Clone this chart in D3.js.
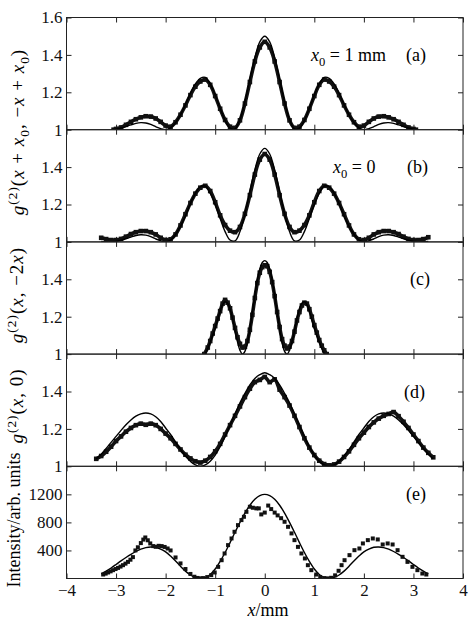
<!DOCTYPE html>
<html>
<head>
<meta charset="utf-8">
<script src="https://cdn.jsdelivr.net/npm/d3@7"></script>
<style>
body { margin: 0; background: #fff; }
svg text { font-family: "Liberation Serif", "Times New Roman", serif; white-space: pre; }
</style>
</head>
<body>
<div id="chart"></div>
<script>
// ---- data: [x in mm, value] ----
var theoryA = [[-3.1,1.0],[-3.0,1.003],[-2.9,1.009],[-2.8,1.017],[-2.7,1.026],[-2.6,1.034],[-2.5,1.038],[-2.4,1.036],[-2.3,1.028],[-2.2,1.016],[-2.1,1.006],[-2.0,1.0],[-1.9,1.01],[-1.8,1.038],[-1.7,1.08],[-1.6,1.135],[-1.5,1.195],[-1.4,1.245],[-1.3,1.275],[-1.2,1.28],[-1.1,1.245],[-1.0,1.185],[-0.9,1.115],[-0.8,1.05],[-0.7,1.008],[-0.6,1.004],[-0.5,1.055],[-0.4,1.15],[-0.3,1.27],[-0.2,1.385],[-0.1,1.47],[0,1.5],[0.1,1.47],[0.2,1.385],[0.3,1.27],[0.4,1.15],[0.5,1.055],[0.6,1.004],[0.7,1.008],[0.8,1.05],[0.9,1.115],[1.0,1.185],[1.1,1.245],[1.2,1.28],[1.3,1.275],[1.4,1.245],[1.5,1.195],[1.6,1.135],[1.7,1.08],[1.8,1.038],[1.9,1.01],[2.0,1.0],[2.1,1.006],[2.2,1.016],[2.3,1.028],[2.4,1.036],[2.5,1.038],[2.6,1.034],[2.7,1.026],[2.8,1.017],[2.9,1.009],[3.0,1.003],[3.1,1.0]];
var expA = [[-3.05,1.0],[-3.0,1.004],[-2.9,1.012],[-2.8,1.026],[-2.7,1.042],[-2.6,1.056],[-2.5,1.066],[-2.4,1.072],[-2.3,1.07],[-2.2,1.06],[-2.1,1.042],[-2.0,1.022],[-1.9,1.016],[-1.8,1.04],[-1.7,1.08],[-1.6,1.13],[-1.5,1.185],[-1.4,1.23],[-1.3,1.258],[-1.2,1.268],[-1.1,1.24],[-1.0,1.18],[-0.9,1.112],[-0.8,1.052],[-0.7,1.016],[-0.6,1.01],[-0.5,1.05],[-0.4,1.14],[-0.3,1.255],[-0.2,1.365],[-0.1,1.44],[0,1.47],[0.1,1.44],[0.2,1.365],[0.3,1.255],[0.4,1.14],[0.5,1.05],[0.6,1.01],[0.7,1.016],[0.8,1.052],[0.9,1.112],[1.0,1.18],[1.1,1.24],[1.2,1.268],[1.3,1.258],[1.4,1.23],[1.5,1.185],[1.6,1.13],[1.7,1.08],[1.8,1.04],[1.9,1.016],[2.0,1.022],[2.1,1.042],[2.2,1.06],[2.3,1.07],[2.4,1.072],[2.5,1.066],[2.6,1.056],[2.7,1.042],[2.8,1.026],[2.9,1.012],[3.0,1.004],[3.05,1.0]];

var theoryB = [[-3.3,1.003],[-3.2,1.001],[-3.1,1.0],[-3.0,1.003],[-2.9,1.009],[-2.8,1.017],[-2.7,1.026],[-2.6,1.034],[-2.5,1.038],[-2.4,1.036],[-2.3,1.028],[-2.2,1.016],[-2.1,1.006],[-2.0,1.0],[-1.9,1.01],[-1.8,1.04],[-1.7,1.083],[-1.6,1.14],[-1.5,1.205],[-1.4,1.26],[-1.3,1.295],[-1.2,1.298],[-1.1,1.26],[-1.0,1.2],[-0.9,1.125],[-0.8,1.055],[-0.7,1.01],[-0.6,1.005],[-0.5,1.055],[-0.4,1.15],[-0.3,1.27],[-0.2,1.385],[-0.1,1.47],[0,1.5],[0.1,1.47],[0.2,1.385],[0.3,1.27],[0.4,1.15],[0.5,1.055],[0.6,1.005],[0.7,1.01],[0.8,1.055],[0.9,1.125],[1.0,1.2],[1.1,1.26],[1.2,1.298],[1.3,1.295],[1.4,1.26],[1.5,1.205],[1.6,1.14],[1.7,1.083],[1.8,1.04],[1.9,1.01],[2.0,1.0],[2.1,1.006],[2.2,1.016],[2.3,1.028],[2.4,1.036],[2.5,1.038],[2.6,1.034],[2.7,1.026],[2.8,1.017],[2.9,1.009],[3.0,1.003],[3.1,1.0],[3.2,1.001],[3.3,1.003]];
var expB = [[-3.3,1.022],[-3.2,1.015],[-3.1,1.01],[-3.0,1.01],[-2.9,1.016],[-2.8,1.028],[-2.7,1.042],[-2.6,1.052],[-2.5,1.058],[-2.4,1.058],[-2.3,1.052],[-2.2,1.04],[-2.1,1.022],[-2.0,1.01],[-1.9,1.014],[-1.8,1.04],[-1.7,1.088],[-1.6,1.148],[-1.5,1.208],[-1.4,1.258],[-1.3,1.29],[-1.2,1.3],[-1.1,1.272],[-1.0,1.212],[-0.9,1.142],[-0.8,1.09],[-0.7,1.06],[-0.6,1.052],[-0.5,1.08],[-0.4,1.15],[-0.3,1.25],[-0.2,1.36],[-0.1,1.44],[0,1.47],[0.1,1.44],[0.2,1.36],[0.3,1.25],[0.4,1.15],[0.5,1.08],[0.6,1.052],[0.7,1.06],[0.8,1.09],[0.9,1.142],[1.0,1.212],[1.1,1.272],[1.2,1.3],[1.3,1.29],[1.4,1.258],[1.5,1.208],[1.6,1.148],[1.7,1.088],[1.8,1.04],[1.9,1.014],[2.0,1.01],[2.1,1.022],[2.2,1.04],[2.3,1.052],[2.4,1.058],[2.5,1.058],[2.6,1.052],[2.7,1.042],[2.8,1.028],[2.9,1.016],[3.0,1.01],[3.1,1.01],[3.2,1.015],[3.3,1.025]];

var theoryC = [[-1.2,1.0],[-1.15,1.03],[-1.1,1.065],[-1.05,1.1],[-1.0,1.14],[-0.95,1.185],[-0.9,1.23],[-0.85,1.265],[-0.8,1.28],[-0.75,1.272],[-0.7,1.24],[-0.65,1.19],[-0.6,1.125],[-0.55,1.065],[-0.5,1.02],[-0.45,1.0],[-0.4,1.015],[-0.35,1.06],[-0.3,1.135],[-0.25,1.225],[-0.2,1.315],[-0.15,1.395],[-0.1,1.455],[-0.05,1.49],[0,1.5],[0.05,1.49],[0.1,1.455],[0.15,1.395],[0.2,1.315],[0.25,1.225],[0.3,1.135],[0.35,1.06],[0.4,1.015],[0.45,1.0],[0.5,1.02],[0.55,1.065],[0.6,1.125],[0.65,1.19],[0.7,1.24],[0.75,1.272],[0.8,1.28],[0.85,1.265],[0.9,1.23],[0.95,1.185],[1.0,1.14],[1.05,1.1],[1.1,1.065],[1.15,1.03],[1.2,1.0]];
var expC = [[-1.22,1.0],[-1.15,1.035],[-1.1,1.07],[-1.05,1.11],[-1.0,1.15],[-0.95,1.19],[-0.9,1.23],[-0.85,1.27],[-0.8,1.29],[-0.75,1.275],[-0.7,1.245],[-0.65,1.195],[-0.6,1.14],[-0.55,1.09],[-0.5,1.055],[-0.45,1.035],[-0.4,1.04],[-0.35,1.07],[-0.3,1.13],[-0.25,1.21],[-0.2,1.3],[-0.15,1.38],[-0.1,1.435],[-0.05,1.465],[0,1.475],[0.05,1.47],[0.1,1.44],[0.15,1.385],[0.2,1.31],[0.25,1.225],[0.3,1.145],[0.35,1.08],[0.4,1.045],[0.45,1.03],[0.5,1.04],[0.55,1.07],[0.6,1.12],[0.65,1.18],[0.7,1.225],[0.75,1.26],[0.8,1.275],[0.85,1.27],[0.9,1.24],[0.95,1.2],[1.0,1.155],[1.05,1.115],[1.1,1.075],[1.15,1.045],[1.2,1.02],[1.25,1.0]];

var theoryD = [[-3.4,1.04],[-3.3,1.065],[-3.2,1.095],[-3.1,1.128],[-3.0,1.16],[-2.9,1.192],[-2.8,1.222],[-2.7,1.248],[-2.6,1.268],[-2.5,1.28],[-2.4,1.285],[-2.3,1.28],[-2.2,1.265],[-2.1,1.24],[-2.0,1.205],[-1.9,1.17],[-1.8,1.13],[-1.7,1.09],[-1.6,1.055],[-1.5,1.027],[-1.4,1.007],[-1.3,1.0],[-1.2,1.007],[-1.1,1.027],[-1.0,1.06],[-0.9,1.105],[-0.8,1.16],[-0.7,1.22],[-0.6,1.28],[-0.5,1.34],[-0.4,1.39],[-0.3,1.435],[-0.2,1.47],[-0.1,1.49],[0,1.5],[0.1,1.49],[0.2,1.47],[0.3,1.435],[0.4,1.39],[0.5,1.34],[0.6,1.28],[0.7,1.22],[0.8,1.16],[0.9,1.105],[1.0,1.06],[1.1,1.027],[1.2,1.007],[1.3,1.0],[1.4,1.007],[1.5,1.027],[1.6,1.055],[1.7,1.09],[1.8,1.13],[1.9,1.17],[2.0,1.205],[2.1,1.24],[2.2,1.265],[2.3,1.28],[2.4,1.285],[2.5,1.28],[2.6,1.268],[2.7,1.248],[2.8,1.222],[2.9,1.192],[3.0,1.16],[3.1,1.128],[3.2,1.095],[3.3,1.065],[3.4,1.04]];
var expD = [[-3.4,1.04],[-3.3,1.055],[-3.2,1.078],[-3.1,1.105],[-3.0,1.135],[-2.9,1.16],[-2.8,1.185],[-2.7,1.205],[-2.6,1.22],[-2.5,1.228],[-2.4,1.222],[-2.3,1.228],[-2.2,1.22],[-2.1,1.2],[-2.0,1.175],[-1.9,1.15],[-1.8,1.12],[-1.7,1.09],[-1.6,1.062],[-1.5,1.042],[-1.4,1.027],[-1.3,1.02],[-1.2,1.03],[-1.1,1.05],[-1.0,1.08],[-0.9,1.12],[-0.8,1.17],[-0.7,1.22],[-0.6,1.27],[-0.5,1.32],[-0.4,1.37],[-0.3,1.415],[-0.2,1.45],[-0.1,1.462],[0,1.478],[0.1,1.45],[0.2,1.465],[0.3,1.41],[0.4,1.37],[0.5,1.325],[0.6,1.27],[0.7,1.21],[0.8,1.15],[0.9,1.1],[1.0,1.06],[1.1,1.03],[1.2,1.012],[1.3,1.005],[1.4,1.01],[1.5,1.025],[1.6,1.05],[1.7,1.08],[1.8,1.115],[1.9,1.15],[2.0,1.18],[2.1,1.21],[2.2,1.235],[2.3,1.255],[2.4,1.27],[2.5,1.28],[2.6,1.29],[2.7,1.268],[2.8,1.238],[2.9,1.205],[3.0,1.17],[3.1,1.135],[3.2,1.1],[3.3,1.072],[3.4,1.048]];

var theoryE = [[-3.3,65],[-3.2,105],[-3.1,150],[-3.0,200],[-2.9,252],[-2.8,300],[-2.7,345],[-2.6,385],[-2.5,418],[-2.4,440],[-2.3,450],[-2.2,445],[-2.1,420],[-2.0,380],[-1.9,320],[-1.8,250],[-1.7,175],[-1.6,105],[-1.5,50],[-1.4,15],[-1.3,0],[-1.2,12],[-1.1,58],[-1.0,135],[-0.9,243],[-0.8,371],[-0.7,512],[-0.6,659],[-0.5,801],[-0.4,933],[-0.3,1045],[-0.2,1129],[-0.1,1182],[0,1200],[0.1,1182],[0.2,1129],[0.3,1045],[0.4,933],[0.5,801],[0.6,659],[0.7,512],[0.8,371],[0.9,243],[1.0,135],[1.1,58],[1.2,12],[1.3,0],[1.4,15],[1.5,50],[1.6,105],[1.7,175],[1.8,250],[1.9,320],[2.0,380],[2.1,420],[2.2,445],[2.3,450],[2.4,440],[2.5,418],[2.6,385],[2.7,345],[2.8,300],[2.9,252],[3.0,200],[3.1,150],[3.2,105],[3.3,65]];
var expE = [[-3.26,57],[-3.21,70],[-3.16,86],[-3.11,102],[-3.06,119],[-3.01,135],[-2.96,151],[-2.91,170],[-2.86,190],[-2.81,212],[-2.76,237],[-2.71,268],[-2.66,305],[-2.61,400],[-2.56,445],[-2.5,505],[-2.45,555],[-2.41,585],[-2.36,545],[-2.31,500],[-2.25,462],[-2.2,452],[-2.14,466],[-2.08,462],[-2.02,450],[-1.96,428],[-1.9,400],[-1.8,300],[-1.7,215],[-1.6,135],[-1.5,65],[-1.42,25],[-1.36,8],[-1.3,3],[-1.24,6],[-1.16,20],[-1.08,48],[-1.01,86],[-0.94,166],[-0.87,261],[-0.81,357],[-0.74,476],[-0.67,571],[-0.61,666],[-0.54,761],[-0.47,833],[-0.42,880],[-0.37,951],[-0.3,1023],[-0.24,1009],[-0.17,1000],[-0.12,1000],[-0.07,914],[0.0,940],[0.07,1040],[0.13,990],[0.2,940],[0.26,900],[0.33,860],[0.4,809],[0.47,737],[0.54,643],[0.6,547],[0.67,451],[0.74,357],[0.81,286],[0.87,190],[0.94,119],[1.04,57],[1.12,22],[1.2,6],[1.27,2],[1.34,10],[1.42,45],[1.49,110],[1.55,190],[1.61,261],[1.71,333],[1.81,404],[1.91,428],[1.98,500],[2.08,547],[2.18,571],[2.28,557],[2.38,485],[2.48,500],[2.58,485],[2.68,404],[2.78,309],[2.88,237],[2.98,166],[3.08,119],[3.18,71],[3.26,57]];

var xTicks = [-4, -3, -2, -1, 0, 1, 2, 3, 4];
var gTicks = [1, 1.2, 1.4];
var gTicksTop = [1, 1.2, 1.4, 1.6];
var eTicks = [400, 800, 1200];

// ---- layout ----
var width = 474, height = 625;
var left = 66.5, right = 463;
var panelTop = [17.5, 129.7, 241.9, 354.1, 466.3], panelH = 112.2;
var fs = 17, ls = 18, labs = 19;

var svg = d3.select("#chart").append("svg")
    .attr("width", width)
    .attr("height", height);

var x = d3.scaleLinear().domain([-4, 4]).range([left, right]);

var panels = [
  {theory: theoryA, exp: expA, dom: [1, 1.6], ticks: gTicksTop},
  {theory: theoryB, exp: expB, dom: [1, 1.6], ticks: gTicks},
  {theory: theoryC, exp: expC, dom: [1, 1.6], ticks: gTicks},
  {theory: theoryD, exp: expD, dom: [1, 1.6], ticks: gTicks},
  {theory: theoryE, exp: expE, dom: [0, 1600], ticks: eTicks, dots: true}
];

// writes math-ish text with italic / sup / sub pieces
function mathText(sel, parts, size) {
  var prev = 0;
  parts.forEach(function(p) {
    var shift = p[1] == "sup" ? -0.38 * size : p[1] == "sub" ? 0.28 * size : 0;
    var t = sel.append("tspan").text(p[0]).attr("dy", shift - prev);
    prev = shift;
    if (p[1] == "i") t.attr("font-style", "italic");
    if (p[1] == "sup" || p[1] == "sub") t.attr("font-size", size * 0.7);
  });
}

function styleAxis(g) {
  g.select(".domain").remove();
  g.attr("font-size", fs);
  g.selectAll(".tick line").attr("stroke", "#222");
  g.selectAll(".tick text").attr("fill", "#111");
}

panels.forEach(function(p, i) {
  var top = panelTop[i], bot = top + panelH;
  var y = d3.scaleLinear().domain(p.dom).range([bot, top]);
  var g = svg.append("g");

  g.append("clipPath").attr("id", "clip" + i)
    .append("rect").attr("x", left).attr("y", top).attr("width", right - left).attr("height", panelH);

  g.append("g").attr("transform", "translate(" + left + ",0)")
    .call(d3.axisLeft(y).tickValues(p.ticks).tickSize(-5).tickPadding(4).tickFormat(d3.format("")))
    .call(styleAxis);
  g.append("g").attr("transform", "translate(" + right + ",0)")
    .call(d3.axisRight(y).tickValues(p.ticks).tickSize(-5).tickFormat(""))
    .call(styleAxis);
  g.append("g").attr("transform", "translate(0," + top + ")")
    .call(d3.axisTop(x).tickValues(xTicks).tickSize(-5).tickFormat(""))
    .call(styleAxis);
  var bAxis = d3.axisBottom(x).tickValues(xTicks).tickSize(-5).tickPadding(5);
  if (i < 4) bAxis.tickFormat("");
  g.append("g").attr("transform", "translate(0," + bot + ")")
    .call(bAxis)
    .call(styleAxis);

  var line = d3.line()
    .x(function(d) { return x(d[0]); })
    .y(function(d) { return y(d[1]); })
    .curve(d3.curveCatmullRom);

  var plot = g.append("g").attr("clip-path", "url(#clip" + i + ")");

  if (!p.dots) {
    plot.append("path").datum(p.exp)
      .attr("d", line)
      .attr("fill", "none")
      .attr("stroke", "#111")
      .attr("stroke-width", 3.6);
    plot.selectAll("rect.pt").data(p.exp).enter().append("rect")
      .attr("class", "pt")
      .attr("x", function(d) { return x(d[0]) - 2.3; })
      .attr("y", function(d) { return y(d[1]) - 2.3; })
      .attr("width", 4.6).attr("height", 4.6)
      .attr("fill", "#111");
  }

  plot.append("path").datum(p.theory)
    .attr("d", line)
    .attr("fill", "none")
    .attr("stroke", "#000")
    .attr("stroke-width", 1.4);

  if (p.dots) {
    plot.selectAll("rect.pt").data(p.exp).enter().append("rect")
      .attr("class", "pt")
      .attr("x", function(d) { return x(d[0]) - 2; })
      .attr("y", function(d) { return y(d[1]) - 2; })
      .attr("width", 4).attr("height", 4)
      .attr("fill", "#111");
  }

  g.append("rect")
    .attr("x", left).attr("y", top)
    .attr("width", right - left).attr("height", panelH)
    .attr("fill", "none")
    .attr("stroke", "#222")
    .attr("stroke-width", 1);
});

// panel notes
var noteA = svg.append("text").attr("x", 311).attr("y", 61).attr("font-size", ls);
mathText(noteA, [["x", "i"], ["0", "sub"], [" = 1 mm", ""]], ls);
svg.append("text").attr("x", 426).attr("y", 61).attr("text-anchor", "end").attr("font-size", ls).text("(a)");

var noteB = svg.append("text").attr("x", 333).attr("y", 173).attr("font-size", ls);
mathText(noteB, [["x", "i"], ["0", "sub"], [" = 0", ""]], ls);
svg.append("text").attr("x", 428).attr("y", 173).attr("text-anchor", "end").attr("font-size", ls).text("(b)");

svg.append("text").attr("x", 430).attr("y", 285).attr("text-anchor", "end").attr("font-size", ls).text("(c)");
svg.append("text").attr("x", 425).attr("y", 398).attr("text-anchor", "end").attr("font-size", ls).text("(d)");
svg.append("text").attr("x", 426).attr("y", 500).attr("text-anchor", "end").attr("font-size", ls).text("(e)");

// y labels
function yLabel(cx, cy, parts, size, spacing) {
  var t = svg.append("text")
    .attr("transform", "translate(" + cx + "," + cy + ") rotate(-90)")
    .attr("text-anchor", "middle")
    .attr("font-size", size)
    .attr("letter-spacing", spacing);
  mathText(t, parts, size);
}
yLabel(24, 132, [["g", "i"], ["(2)", "sup"], ["(", ""], ["x", "i"], [" + ", ""], ["x", "i"], ["0", "sub"], [", \u2212", ""], ["x", "i"], [" + ", ""], ["x", "i"], ["0", "sub"], [")", ""]], labs, 1);
yLabel(23, 295, [["g", "i"], ["(2)", "sup"], ["(", ""], ["x", "i"], [", \u22122", ""], ["x", "i"], [")", ""]], labs, 1);
yLabel(23, 406, [["g", "i"], ["(2)", "sup"], ["(", ""], ["x", "i"], [", 0)", ""]], labs, 1);
yLabel(20, 520, [["Intensity/arb. units", ""]], ls, 0);

// x label
var xl = svg.append("text").attr("x", 268).attr("y", 616).attr("text-anchor", "middle").attr("font-size", ls);
mathText(xl, [["x", "i"], ["/mm", ""]], ls);
</script>
</body>
</html>
